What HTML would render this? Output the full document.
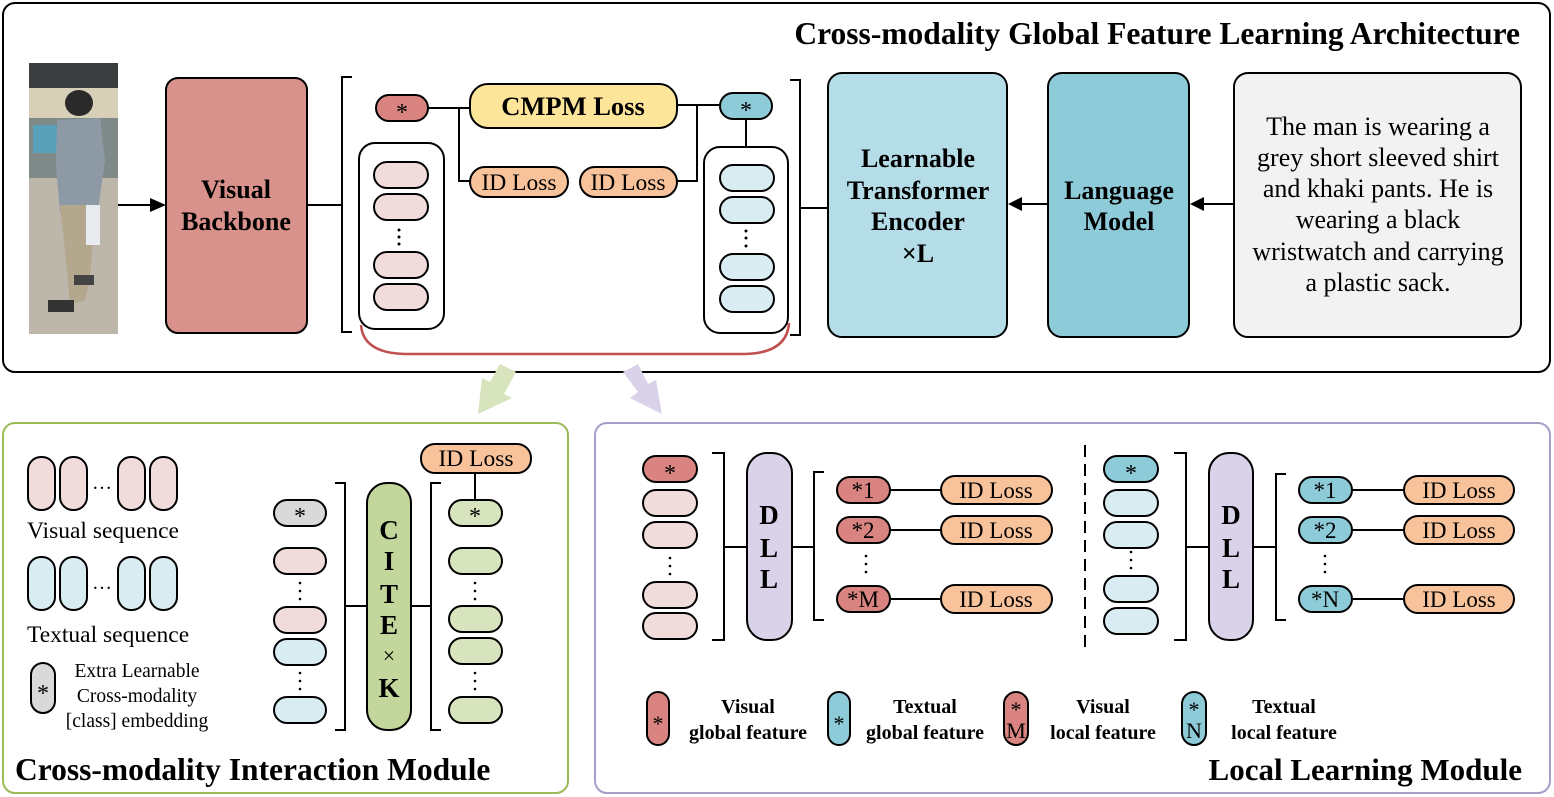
<!DOCTYPE html>
<html><head><meta charset="utf-8"><style>
html,body{margin:0;padding:0;background:#fff;}
svg{display:block;}
text{font-family:"Liberation Serif",serif;}
.b{font-weight:bold;}
</style></head><body>
<svg width="1554" height="797" viewBox="0 0 1554 797" xmlns="http://www.w3.org/2000/svg">
<g stroke="#000" stroke-width="2" fill="none">
<rect x="3" y="3" width="1547" height="369" rx="12"/>
</g>
<text x="1520" y="44" text-anchor="end" font-size="31.5" class="b">Cross-modality Global Feature Learning Architecture</text>

<!-- photo -->
<rect x="29" y="63" width="89" height="271" fill="#c8c2b8"/>
<rect x="29" y="63" width="89" height="25" fill="#3b3e3e"/>
<rect x="29" y="88" width="89" height="30" fill="#d8cfb8"/>
<rect x="29" y="118" width="89" height="60" fill="#7f8a88"/>
<rect x="33" y="125" width="28" height="28" fill="#5aa0b8"/>
<rect x="29" y="178" width="89" height="156" fill="#bdb6ab"/>
<ellipse cx="79" cy="103" rx="14" ry="13" fill="#2a2a2a"/>
<path d="M57 120 L100 118 L105 160 L98 210 L60 212 L56 165 Z" fill="#8e99a6"/>
<path d="M60 205 L95 205 L90 280 L85 300 L70 305 L66 260 Z" fill="#b3a88d"/>
<rect x="86" y="205" width="14" height="40" fill="#e8ecee"/>
<rect x="48" y="300" width="26" height="12" fill="#333"/>
<rect x="74" y="275" width="20" height="10" fill="#444"/>

<g stroke="#000" stroke-width="2" fill="none">
<line x1="118" y1="205" x2="156" y2="205"/>
<line x1="307" y1="205" x2="342" y2="205"/>
<path d="M352 77 H342 V332 H352"/>
<path d="M790 80 H800 V335 H790"/>
<line x1="800" y1="208" x2="828" y2="208"/>
<line x1="1047" y1="204" x2="1018" y2="204"/>
<line x1="1234" y1="204" x2="1200" y2="204"/>
<line x1="428" y1="108" x2="470" y2="108"/>
<path d="M459 108 V181 H470"/>
<path d="M677 181 H697 V105"/>
<line x1="677" y1="105" x2="720" y2="105"/>
<line x1="746" y1="119" x2="746" y2="148"/>
</g>
<polygon points="166,205 150,198 150,212" fill="#000"/>
<polygon points="1008,204 1022,197 1022,211" fill="#000"/>
<polygon points="1190,204 1204,197 1204,211" fill="#000"/>

<rect x="166" y="78" width="141" height="255" rx="12" fill="#d9918b" stroke="#000" stroke-width="2"/>
<text x="236" y="198" text-anchor="middle" font-size="26" class="b">Visual</text>
<text x="236" y="230" text-anchor="middle" font-size="26" class="b">Backbone</text>

<rect x="376" y="95" width="52" height="26" rx="13" fill="#d98480" stroke="#000" stroke-width="2"/>
<text x="402" y="120" text-anchor="middle" font-size="24">*</text>
<rect x="470" y="84" width="207" height="44" rx="18" fill="#fde59a" stroke="#000" stroke-width="2"/>
<text x="573" y="115" text-anchor="middle" font-size="26.5" class="b">CMPM Loss</text>
<rect x="470" y="167" width="98" height="30" rx="15" fill="#f8c29a" stroke="#000" stroke-width="2"/>
<text x="519" y="190" text-anchor="middle" font-size="23.5">ID Loss</text>
<rect x="580" y="167" width="97" height="30" rx="15" fill="#f8c29a" stroke="#000" stroke-width="2"/>
<text x="628" y="190" text-anchor="middle" font-size="23.5">ID Loss</text>
<rect x="720" y="93" width="52" height="26" rx="13" fill="#8ecbd9" stroke="#000" stroke-width="2"/>
<text x="746" y="118" text-anchor="middle" font-size="24">*</text>

<rect x="359" y="143" width="85" height="186" rx="16" fill="#fff" stroke="#000" stroke-width="2"/>
<g fill="#f0dcdb" stroke="#000" stroke-width="2">
<rect x="374" y="162" width="54" height="26" rx="13"/>
<rect x="374" y="194" width="54" height="26" rx="13"/>
<rect x="374" y="252" width="54" height="26" rx="13"/>
<rect x="374" y="284" width="54" height="26" rx="13"/>
</g>
<g fill="#000"><circle cx="399" cy="230" r="1.5"/><circle cx="399" cy="237" r="1.5"/><circle cx="399" cy="244" r="1.5"/></g>
<rect x="704" y="147" width="84" height="186" rx="16" fill="#fff" stroke="#000" stroke-width="2"/>
<g fill="#d9ecf2" stroke="#000" stroke-width="2">
<rect x="720" y="165" width="54" height="26" rx="13"/>
<rect x="720" y="197" width="54" height="26" rx="13"/>
<rect x="720" y="254" width="54" height="26" rx="13"/>
<rect x="720" y="286" width="54" height="26" rx="13"/>
</g>
<g fill="#000"><circle cx="746" cy="231" r="1.5"/><circle cx="746" cy="238" r="1.5"/><circle cx="746" cy="246" r="1.5"/></g>
<path d="M361 325 Q363 353 405 354 L745 354 Q787 353 789 323" fill="none" stroke="#c0504d" stroke-width="2.5"/>

<rect x="828" y="73" width="179" height="264" rx="14" fill="#b5dde7" stroke="#000" stroke-width="2"/>
<g font-size="26" class="b" text-anchor="middle">
<text x="918" y="167">Learnable</text>
<text x="918" y="199">Transformer</text>
<text x="918" y="230">Encoder</text>
<text x="918" y="262">×L</text>
</g>
<rect x="1048" y="73" width="141" height="264" rx="14" fill="#8ecbd9" stroke="#000" stroke-width="2"/>
<text x="1119" y="199" text-anchor="middle" font-size="26" class="b">Language</text>
<text x="1119" y="230" text-anchor="middle" font-size="26" class="b">Model</text>
<rect x="1234" y="73" width="287" height="264" rx="14" fill="#f2f2f2" stroke="#000" stroke-width="2"/>
<g font-size="26" text-anchor="middle">
<text x="1378" y="135">The man is wearing a</text>
<text x="1378" y="166">grey short sleeved shirt</text>
<text x="1378" y="197">and khaki pants.  He is</text>
<text x="1378" y="228">wearing a black</text>
<text x="1378" y="260">wristwatch and carrying</text>
<text x="1378" y="291">a plastic sack.</text>
</g>

<!-- block arrows -->
<polygon points="500,364 516,372 504,394 512,398 478,414 482,378 490,382" fill="#d7e4bd"/>
<polygon points="623,372 638,364 648,384 656,380 662,414 630,398 638,392" fill="#d9d2e9"/>

<!-- bottom left -->
<rect x="3" y="423" width="565" height="370" rx="12" fill="none" stroke="#9bbb59" stroke-width="2"/>
<g stroke="#000" stroke-width="2" fill="#f0dcdb">
<rect x="28" y="457" width="27" height="53" rx="13"/>
<rect x="60" y="457" width="27" height="53" rx="13"/>
<rect x="118" y="457" width="27" height="53" rx="13"/>
<rect x="150" y="457" width="27" height="53" rx="13"/>
</g>
<text x="102" y="489" text-anchor="middle" font-size="20">…</text>
<text x="27" y="538" font-size="23.5">Visual sequence</text>
<g stroke="#000" stroke-width="2" fill="#d9ecf2">
<rect x="28" y="557" width="27" height="53" rx="13"/>
<rect x="60" y="557" width="27" height="53" rx="13"/>
<rect x="118" y="557" width="27" height="53" rx="13"/>
<rect x="150" y="557" width="27" height="53" rx="13"/>
</g>
<text x="102" y="589" text-anchor="middle" font-size="20">…</text>
<text x="27" y="642" font-size="23.5">Textual sequence</text>
<rect x="31" y="663" width="24" height="50" rx="12" fill="#d9d9d9" stroke="#000" stroke-width="2"/>
<text x="43" y="701" text-anchor="middle" font-size="24">*</text>
<g font-size="19.5" text-anchor="middle">
<text x="137" y="677">Extra Learnable</text>
<text x="137" y="702">Cross-modality</text>
<text x="137" y="727">[class] embedding</text>
</g>

<rect x="274" y="500" width="52" height="26" rx="13" fill="#d9d9d9" stroke="#000" stroke-width="2"/>
<text x="300" y="524" text-anchor="middle" font-size="24">*</text>
<g stroke="#000" stroke-width="2">
<rect x="274" y="548" width="52" height="26" rx="13" fill="#f0dcdb"/>
<rect x="274" y="607" width="52" height="26" rx="13" fill="#f0dcdb"/>
<rect x="274" y="639" width="52" height="26" rx="13" fill="#d9ecf2"/>
<rect x="274" y="697" width="52" height="26" rx="13" fill="#d9ecf2"/>
</g>
<g fill="#000"><circle cx="300" cy="583" r="1.3"/><circle cx="300" cy="591" r="1.3"/><circle cx="300" cy="599" r="1.3"/>
<circle cx="300" cy="673" r="1.3"/><circle cx="300" cy="681" r="1.3"/><circle cx="300" cy="689" r="1.3"/>
<circle cx="475" cy="583" r="1.3"/><circle cx="475" cy="591" r="1.3"/><circle cx="475" cy="599" r="1.3"/>
<circle cx="475" cy="673" r="1.3"/><circle cx="475" cy="681" r="1.3"/><circle cx="475" cy="689" r="1.3"/></g>
<g stroke="#000" stroke-width="2" fill="none">
<path d="M335 483 H345 V730 H335"/>
<line x1="345" y1="606" x2="367" y2="606"/>
<line x1="411" y1="606" x2="431" y2="606"/>
<path d="M441 483 H431 V730 H441"/>
<line x1="475" y1="473" x2="475" y2="500"/>
</g>
<rect x="367" y="483" width="44" height="247" rx="20" fill="#c3d69b" stroke="#000" stroke-width="2"/>
<g font-size="27" class="b" text-anchor="middle">
<text x="389" y="539">C</text><text x="389" y="570">I</text><text x="389" y="603">T</text>
<text x="389" y="634">E</text><text x="389" y="663" font-weight="normal" font-size="22">×</text><text x="389" y="697">K</text>
</g>
<rect x="421" y="444" width="110" height="29" rx="14" fill="#f8c29a" stroke="#000" stroke-width="2"/>
<text x="476" y="466" text-anchor="middle" font-size="23.5">ID Loss</text>
<g stroke="#000" stroke-width="2" fill="#d7e4bd">
<rect x="449" y="500" width="53" height="26" rx="13"/>
<rect x="449" y="548" width="53" height="26" rx="13"/>
<rect x="449" y="606" width="53" height="26" rx="13"/>
<rect x="449" y="638" width="53" height="26" rx="13"/>
<rect x="449" y="697" width="53" height="26" rx="13"/>
</g>
<text x="475" y="524" text-anchor="middle" font-size="24">*</text>
<text x="15" y="780" font-size="31.5" class="b">Cross-modality Interaction Module</text>

<!-- bottom right -->
<rect x="595" y="423" width="955" height="370" rx="12" fill="none" stroke="#a99cc8" stroke-width="2"/>
<rect x="643" y="456" width="54" height="26" rx="13" fill="#d98480" stroke="#000" stroke-width="2"/>
<text x="670" y="481" text-anchor="middle" font-size="24">*</text>
<g stroke="#000" stroke-width="2" fill="#f0dcdb">
<rect x="643" y="490" width="54" height="26" rx="13"/>
<rect x="643" y="522" width="54" height="26" rx="13"/>
<rect x="643" y="582" width="54" height="26" rx="13"/>
<rect x="643" y="613" width="54" height="26" rx="13"/>
</g>
<rect x="1104" y="456" width="54" height="26" rx="13" fill="#8ecbd9" stroke="#000" stroke-width="2"/>
<text x="1131" y="481" text-anchor="middle" font-size="24">*</text>
<g stroke="#000" stroke-width="2" fill="#d9ecf2">
<rect x="1104" y="490" width="54" height="26" rx="13"/>
<rect x="1104" y="522" width="54" height="26" rx="13"/>
<rect x="1104" y="576" width="54" height="26" rx="13"/>
<rect x="1104" y="608" width="54" height="26" rx="13"/>
</g>
<g fill="#000">
<circle cx="670" cy="558" r="1.3"/><circle cx="670" cy="566" r="1.3"/><circle cx="670" cy="574" r="1.3"/>
<circle cx="1131" cy="552" r="1.3"/><circle cx="1131" cy="560" r="1.3"/><circle cx="1131" cy="568" r="1.3"/>
<circle cx="866" cy="556" r="1.3"/><circle cx="866" cy="564" r="1.3"/><circle cx="866" cy="572" r="1.3"/>
<circle cx="1325" cy="556" r="1.3"/><circle cx="1325" cy="564" r="1.3"/><circle cx="1325" cy="572" r="1.3"/>
</g>
<g stroke="#000" stroke-width="2" fill="none">
<path d="M712 453 H724 V640 H712"/>
<line x1="724" y1="547" x2="747" y2="547"/>
<line x1="792" y1="547" x2="814" y2="547"/>
<path d="M824 472 H814 V620 H824"/>
<path d="M1174 453 H1186 V640 H1174"/>
<line x1="1186" y1="547" x2="1209" y2="547"/>
<line x1="1253" y1="547" x2="1276" y2="547"/>
<path d="M1286 474 H1276 V620 H1286"/>
<line x1="890" y1="490" x2="941" y2="490"/><line x1="890" y1="530" x2="941" y2="530"/><line x1="890" y1="599" x2="941" y2="599"/>
<line x1="1352" y1="490" x2="1404" y2="490"/><line x1="1352" y1="530" x2="1404" y2="530"/><line x1="1352" y1="599" x2="1404" y2="599"/>
<line x1="1085" y1="445" x2="1085" y2="648" stroke-dasharray="12,7"/>
</g>
<rect x="747" y="453" width="45" height="187" rx="20" fill="#d9d2e9" stroke="#000" stroke-width="2"/>
<rect x="1209" y="453" width="44" height="187" rx="20" fill="#d9d2e9" stroke="#000" stroke-width="2"/>
<g font-size="27" class="b" text-anchor="middle">
<text x="769" y="524">D</text><text x="769" y="557">L</text><text x="769" y="588">L</text>
<text x="1231" y="524">D</text><text x="1231" y="557">L</text><text x="1231" y="588">L</text>
</g>
<g stroke="#000" stroke-width="2">
<rect x="837" y="477" width="53" height="26" rx="13" fill="#d98480"/>
<rect x="837" y="517" width="53" height="26" rx="13" fill="#d98480"/>
<rect x="837" y="586" width="53" height="26" rx="13" fill="#d98480"/>
<rect x="1299" y="477" width="53" height="26" rx="13" fill="#8ecbd9"/>
<rect x="1299" y="517" width="53" height="26" rx="13" fill="#8ecbd9"/>
<rect x="1299" y="586" width="53" height="26" rx="13" fill="#8ecbd9"/>
<rect x="941" y="476" width="111" height="28" rx="14" fill="#f8c29a"/>
<rect x="941" y="516" width="111" height="28" rx="14" fill="#f8c29a"/>
<rect x="941" y="585" width="111" height="28" rx="14" fill="#f8c29a"/>
<rect x="1404" y="476" width="110" height="28" rx="14" fill="#f8c29a"/>
<rect x="1404" y="516" width="110" height="28" rx="14" fill="#f8c29a"/>
<rect x="1404" y="585" width="110" height="28" rx="14" fill="#f8c29a"/>
</g>
<g font-size="23" text-anchor="middle">
<text x="863" y="498">*1</text><text x="863" y="538">*2</text><text x="863" y="607">*M</text>
<text x="1325" y="498">*1</text><text x="1325" y="538">*2</text><text x="1325" y="607">*N</text>
<text x="996" y="498">ID Loss</text><text x="996" y="538">ID Loss</text><text x="996" y="607">ID Loss</text>
<text x="1459" y="498">ID Loss</text><text x="1459" y="538">ID Loss</text><text x="1459" y="607">ID Loss</text>
</g>
<!-- legend -->
<g stroke="#000" stroke-width="2">
<rect x="647" y="692" width="22" height="53" rx="11" fill="#d98480"/>
<rect x="828" y="692" width="22" height="53" rx="11" fill="#8ecbd9"/>
<rect x="1004" y="692" width="24" height="53" rx="12" fill="#d98480"/>
<rect x="1182" y="692" width="24" height="53" rx="12" fill="#8ecbd9"/>
</g>
<g font-size="22" text-anchor="middle">
<text x="658" y="731">*</text><text x="839" y="731">*</text>
<text x="1016" y="717">*</text><text x="1016" y="738" font-size="22">M</text>
<text x="1194" y="717">*</text><text x="1194" y="738" font-size="22">N</text>
</g>
<g font-size="20" class="b" text-anchor="middle">
<text x="748" y="713">Visual</text><text x="748" y="739">global feature</text>
<text x="925" y="713">Textual</text><text x="925" y="739">global feature</text>
<text x="1103" y="713">Visual</text><text x="1103" y="739">local feature</text>
<text x="1284" y="713">Textual</text><text x="1284" y="739">local feature</text>
</g>
<text x="1522" y="780" text-anchor="end" font-size="31" class="b">Local Learning Module</text>
</svg>
</body></html>
